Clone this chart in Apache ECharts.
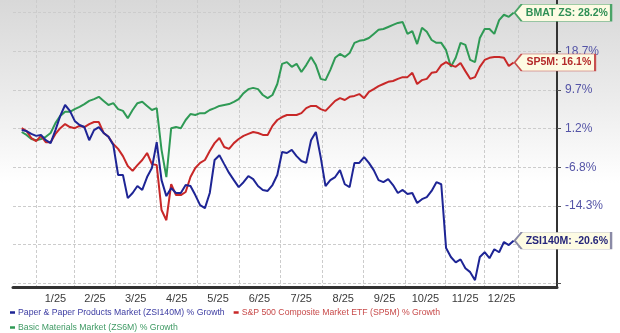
<!DOCTYPE html>
<html><head><meta charset="utf-8">
<script src="https://cdn.jsdelivr.net/npm/echarts@6/dist/echarts.min.js"></script>
<style>html,body{margin:0;padding:0;background:#fff}#c{width:620px;height:333px}</style>
</head><body><div id="c"></div>
<script>
// x positions: trading-day index (0 = first trading day of Jan 2025)
const days = [-7.5,-5,-2.5,0,2.5,5,7.5,10,12.5,15,17.5,20,22.5,25,27.5,30,32.5,35,37.5,40,
42.5,45,47.5,50,52.5,55,57.5,60,62.5,65,67.5,70,72.5,75,77.5,80,82.5,85,87.5,90,
92.5,95,97.5,100,102.5,105,107.5,110,112.5,115,117.5,120,122.5,125,127.5,130,132.5,135,137.5,140,
142.5,145,147.5,150,152.5,155,157.5,160,162.5,165,167.5,170,172.5,175,177.5,180,182.5,185,187.5,190,
192.5,195,197.5,200,202.5,205,207.5,210,212.5,215,217.5,220,222.5,225,227.5,230,232.5,235,237.5,240,
242.5,245,247.5];
const monthStarts = [0,19.9,41.1,62.2,83.5,105.1,126.3,148.5,169.8,191.4,212.2,232.5,250];
const monthMids = [10,30.5,51.6,72.9,94.3,115.7,137.4,159.2,180.6,201.8,222.4,241.3];
const monthLabels = ['1/25','2/25','3/25','4/25','5/25','6/25','7/25','8/25','9/25','10/25','11/25','12/25'];
const yTickValues = [-27.8,-21.3,-14.3,-6.8,1.2,9.7,18.7,28.2];
const yTickLabels = ['','','-14.3%','-6.8%','1.2%','9.7%','18.7%',''];

const zsi140m = [0.9,0.7,0.1,-0.3,-0.1,-1.2,-1.8,0.9,4.0,6.4,
5.1,2.9,2.0,1.55,-1.2,0.9,1.55,0.3,-0.5,-2.2,
-8.3,-8.3,-12.8,-11.8,-10.45,-11.2,-8.7,-6.95,-1.6,-9.3,
-12.4,-10.85,-11.8,-11.8,-10.25,-10.45,-12.2,-14.15,-14.7,-11.8,
-5.3,-4.3,-6.15,-7.9,-9.3,-10.65,-9.7,-8.5,-9.1,-10.45,
-11.2,-11.4,-10.25,-8.3,-3.65,-3.85,-3.2,-4.5,-5.5,-5.9,
-1.2,0.5,-4.7,-10.45,-9.3,-8.7,-7.35,-10.1,-10.65,-5.9,
-5.9,-4.7,-5.9,-7.35,-9.3,-9.7,-9.1,-10.25,-11.8,-11.2,
-12.0,-11.8,-13.75,-13.0,-12.6,-11.4,-9.7,-10.1,-21.9,-23.4,
-24.3,-23.8,-25.3,-25.95,-27.3,-23.4,-22.6,-23.6,-22.1,-22.6,
-20.85,-21.4,-20.6];
const sp5m = [1.3,0.7,-0.75,-1.4,-0.3,-1.6,-1.6,0.1,1.3,2.2,
1.55,1.3,1.8,1.55,2.2,2.65,2.65,0.3,-0.5,-2.0,
-3.0,-4.5,-6.55,-7.5,-6.35,-5.3,-3.85,-6.15,-6.35,-15.05,
-16.9,-10.1,-12.2,-12.2,-11.6,-8.7,-6.95,-5.9,-5.3,-3.45,
-1.8,-0.75,-2.6,-3.0,-1.8,-0.95,-0.3,0.1,0.5,0.3,
-0.1,-0.1,1.8,3.1,3.75,4.2,4.2,4.2,4.6,5.7,
6.2,6.2,5.5,5.1,6.2,7.3,7.9,7.5,8.2,8.4,
8.8,7.9,9.3,9.9,10.6,11.1,11.6,11.8,12.3,12.7,
12.7,13.7,11.1,12.0,12.3,13.7,13.9,15.5,16.2,15.5,
15.1,16.0,14.1,12.3,12.7,15.1,16.7,17.2,17.4,17.4,
17.2,15.3,16.1];
const zs6m = [0.5,-0.1,-0.95,-1.2,-0.95,-0.5,0.3,2.4,4.0,4.9,
4.9,5.5,6.0,6.6,7.3,7.7,8.2,7.3,6.4,6.8,
5.5,5.1,3.5,5.3,6.8,7.1,6.2,5.3,5.7,-3.2,
-8.7,1.3,1.55,1.3,3.1,4.4,4.2,4.6,4.6,5.3,
5.7,6.2,6.4,6.6,7.1,7.7,9.0,9.9,10.2,9.9,
8.6,7.9,8.6,11.1,15.8,16.2,15.1,15.8,13.9,15.5,
17.4,15.5,12.3,12.0,14.4,17.2,18.1,17.4,18.3,20.8,
21.3,21.5,22.0,23.0,24.0,24.2,24.7,25.2,25.7,25.9,
23.0,23.7,20.5,24.5,23.5,21.5,20.8,20.8,19.0,15.1,
17.2,20.8,20.3,16.7,16.2,22.0,24.2,24.2,23.0,26.4,
27.7,27.2,28.2];

const names = ['Paper & Paper Products Market (ZSI140M) % Growth',
  'S&P 500 Composite Market ETF (SP5M) % Growth',
  'Basic Materials Market (ZS6M) % Growth'];

// the vertical scale of the source is evenly spaced by tick, not by value
function toU(g){
  const n = yTickValues.length;
  for (let i = 0; i < n - 1; i++) {
    const a = yTickValues[i], b = yTickValues[i+1];
    if (g <= b || i === n - 2) return i + (g - a) / (b - a);
  }
}
const yTickU = yTickValues.map(toU);
const toPairs = vals => vals.map((v, i) => [days[i], toU(v)]);

const FONT = '"Liberation Sans", Arial, sans-serif';
function callout(vals, prefix, border, textColor, w){
  const last = vals.length - 1;
  return {
    symbol: 'path://M0,8L7,0L' + w + ',0L' + w + ',16L7,16Z',
    symbolSize: [w, 17], symbolOffset: [w / 2 + 1, 0], symbolKeepAspect: false,
    silent: true, animation: false,
    itemStyle: {color: '#fdfbe3', borderColor: border, borderWidth: 1},
    label: {show: true, position: 'inside', offset: [4, 0],
      formatter: prefix + vals[last].toFixed(1) + '%',
      color: textColor, fontWeight: 'bold', fontSize: 10.5, fontFamily: FONT},
    data: [{coord: [days[last], toU(vals[last])]}]
  };
}

const LEGEND_FONT = {fontSize: 8.7, fontFamily: FONT, padding: [0, 0, 0, -2]};
const chart = echarts.init(document.getElementById('c'), null, {renderer: 'canvas'});
chart.setOption({
  animation: false,
  backgroundColor: {type: 'linear', x: 0, y: 0, x2: 0, y2: 1,
    colorStops: [{offset: 0, color: '#d8d8d8'}, {offset: 0.3, color: '#ececec'}, {offset: 0.55, color: '#ffffff'}, {offset: 1, color: '#ffffff'}]},
  grid: {left: 13, right: 63, top: 0, bottom: 46, containLabel: false},
  xAxis: {
    type: 'value', min: -12, max: 270,
    axisLine: {show: true, onZero: false, lineStyle: {color: '#333', width: 3}},
    axisTick: {show: false, customValues: monthStarts},
    axisLabel: {customValues: monthMids, formatter: v => monthLabels[monthMids.indexOf(v)] || '',
      color: '#3a3a3a', fontSize: 11, fontFamily: FONT, margin: 6},
    splitLine: {show: true, lineStyle: {color: '#cccccc', type: [3, 2], width: 1}}
  },
  yAxis: {
    type: 'value', position: 'right', min: -0.1, max: 7.33,
    axisLine: {show: true, onZero: false, lineStyle: {color: '#333', width: 2}},
    axisTick: {show: true, length: 4, inside: false, customValues: yTickU, lineStyle: {color: '#555'}},
    axisLabel: {customValues: yTickU, formatter: v => yTickLabels[Math.round(v)] || '',
      color: '#5454a6', fontSize: 12, fontFamily: FONT, margin: 8},
    splitLine: {show: true, lineStyle: {color: '#cccccc', type: [3, 2], width: 1}}
  },
  legend: [
    {data: [{name: names[0], textStyle: {color: '#3c3ca2'}}, {name: names[1], textStyle: {color: '#c84a4a'}}],
     left: 5, top: 303, itemWidth: 5, itemHeight: 2.5, itemGap: 9, icon: 'rect',
     textStyle: LEGEND_FONT, selectedMode: false},
    {data: [{name: names[2], textStyle: {color: '#3f9a64'}}],
     left: 5, top: 318, itemWidth: 5, itemHeight: 2.5, itemGap: 9, icon: 'rect',
     textStyle: LEGEND_FONT, selectedMode: false}
  ],
  series: [
    {name: names[2], type: 'line', data: toPairs(zs6m), showSymbol: false, symbol: 'none',
     lineStyle: {color: '#2f9a55', width: 2}, itemStyle: {color: '#2f9a55'}, z: 3,
     markPoint: callout(zs6m, 'BMAT ZS: ', '#4aa468', '#2f8f55', 96.5)},
    {name: names[1], type: 'line', data: toPairs(sp5m), showSymbol: false, symbol: 'none',
     lineStyle: {color: '#c82828', width: 2}, itemStyle: {color: '#c82828'}, z: 4,
     markPoint: callout(sp5m, 'SP5M: ', '#c85050', '#b42a2a', 80.5)},
    {name: names[0], type: 'line', data: toPairs(zsi140m), showSymbol: false, symbol: 'none',
     lineStyle: {color: '#1e2595', width: 2}, itemStyle: {color: '#1e2595'}, z: 5,
     markPoint: callout(zsi140m, 'ZSI140M: ', '#8a8aa6', '#25257a', 96.5)}
  ]
});
</script></body></html>
